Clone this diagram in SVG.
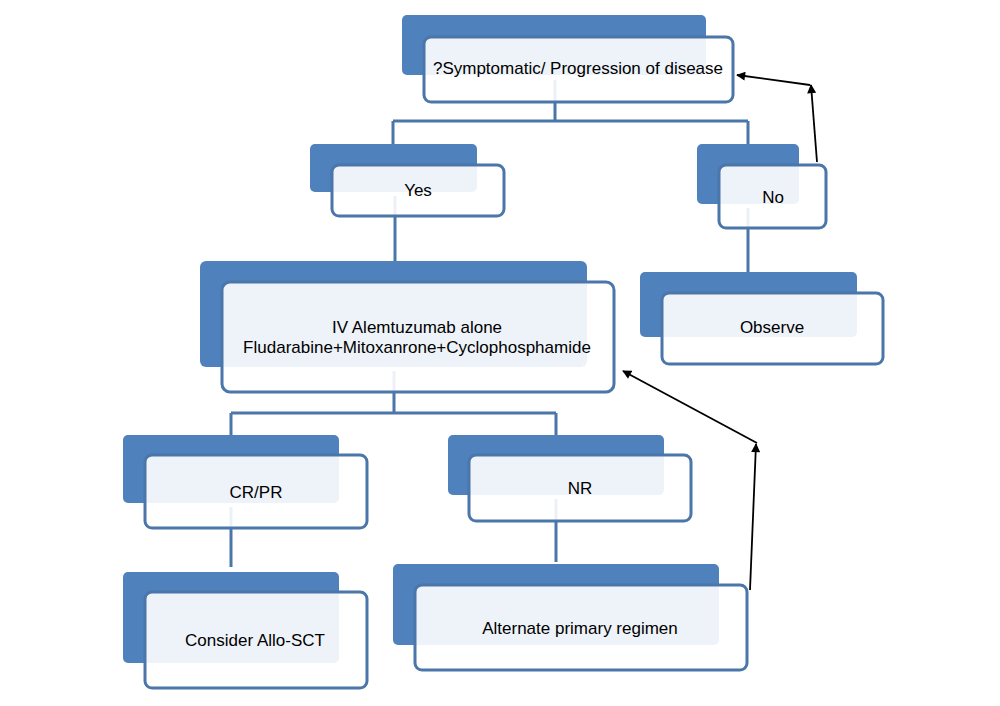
<svg xmlns="http://www.w3.org/2000/svg" width="1000" height="706" viewBox="0 0 1000 706">
<style>
.back{fill:#4F81BD;}
.front{fill:#FFFFFF;fill-opacity:0.9;stroke:#4A76AA;stroke-width:3;}
.conn{fill:none;stroke:#4A76AA;stroke-width:3;}
.arrow{fill:none;stroke:#000;stroke-width:1.8;marker-end:url(#ah);}
text{font-family:"Liberation Sans",Arial,sans-serif;font-size:17px;fill:#000;text-anchor:middle;}
</style>
<defs>
<marker id="ah" viewBox="0 0 10 10" refX="9" refY="5" markerWidth="10" markerHeight="9" orient="auto" markerUnits="userSpaceOnUse">
<path d="M0,0 L10,5 L0,10 z" fill="#000"/>
</marker>
</defs>
<rect width="1000" height="706" fill="#FFFFFF"/>
<g id="connectors">
<path class="conn" d="M555,80 V121 M393,121 H748 M393,121 V146 M748,121 V146"/>
<path class="conn" d="M395,196 V262"/>
<path class="conn" d="M748,208 V272"/>
<path class="conn" d="M394,371 V413 M231,413 H556 M231,413 V437 M556,413 V437"/>
<path class="conn" d="M231,507 V567"/>
<path class="conn" d="M556,499 V562"/>
<line class="arrow" x1="817" y1="162" x2="811" y2="85"/>
<line class="arrow" x1="810" y1="85" x2="737" y2="75"/>
<line class="arrow" x1="750" y1="590" x2="756" y2="444"/>
<line class="arrow" x1="757" y1="443" x2="623" y2="371"/>
</g>
<g id="node-symptomatic">
<rect class="back" x="402" y="15" width="304" height="60" rx="5"/>
<rect class="front" x="424" y="37" width="309" height="65" rx="7"/>
<text x="578" y="74">?Symptomatic/ Progression of disease</text>
</g>
<g id="node-yes">
<rect class="back" x="310" y="144" width="167" height="48" rx="5"/>
<rect class="front" x="332" y="165" width="172" height="51" rx="7"/>
<text x="418" y="196">Yes</text>
</g>
<g id="node-no">
<rect class="back" x="697" y="144" width="102" height="60" rx="5"/>
<rect class="front" x="719" y="165" width="107" height="63" rx="7"/>
<text x="773" y="203">No</text>
</g>
<g id="node-iv">
<rect class="back" x="200" y="261" width="387" height="106" rx="6"/>
<rect class="front" x="222" y="282" width="392" height="110" rx="8"/>
<text x="417" y="333">IV Alemtuzumab alone</text>
<text x="417" y="353">Fludarabine+Mitoxanrone+Cyclophosphamide</text>
</g>
<g id="node-observe">
<rect class="back" x="640" y="272" width="217" height="65" rx="5"/>
<rect class="front" x="662" y="293" width="221" height="71" rx="7"/>
<text x="772" y="333">Observe</text>
</g>
<g id="node-crpr">
<rect class="back" x="123" y="435" width="216" height="68" rx="5"/>
<rect class="front" x="145" y="455" width="222" height="73" rx="7"/>
<text x="256" y="498">CR/PR</text>
</g>
<g id="node-nr">
<rect class="back" x="448" y="435" width="216" height="60" rx="5"/>
<rect class="front" x="469" y="455" width="222" height="66" rx="7"/>
<text x="580" y="494">NR</text>
</g>
<g id="node-allo">
<rect class="back" x="123" y="572" width="216" height="91" rx="5"/>
<rect class="front" x="145" y="592" width="222" height="96" rx="7"/>
<text x="255" y="646">Consider Allo-SCT</text>
</g>
<g id="node-alternate">
<rect class="back" x="393" y="564" width="326" height="81" rx="5"/>
<rect class="front" x="415" y="585" width="332" height="85" rx="7"/>
<text x="580" y="634">Alternate primary regimen</text>
</g>
</svg>
